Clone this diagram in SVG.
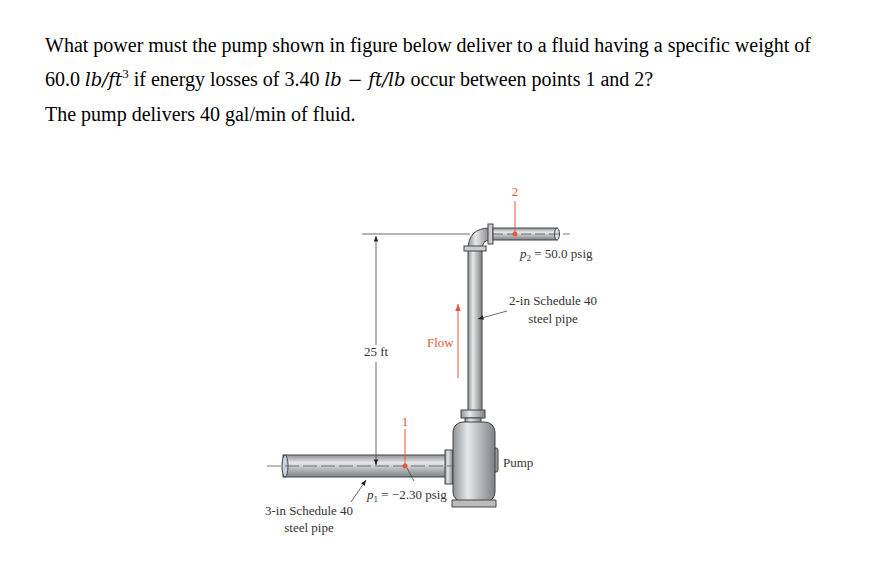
<svg xmlns="http://www.w3.org/2000/svg" width="872" height="586" viewBox="0 0 872 586">
<defs>
<linearGradient id="hg" x1="0" y1="0" x2="0" y2="1"><stop offset="0" stop-color="#8e9296"/><stop offset="0.35" stop-color="#e6e8ea"/><stop offset="1" stop-color="#7d8185"/></linearGradient>
<linearGradient id="vg" x1="0" y1="0" x2="1" y2="0"><stop offset="0" stop-color="#8e9296"/><stop offset="0.35" stop-color="#e6e8ea"/><stop offset="1" stop-color="#7d8185"/></linearGradient>
<marker id="ab" viewBox="0 0 10 10" refX="10" refY="5" markerWidth="7" markerHeight="7" orient="auto-start-reverse"><path d="M0,1 L10,5 L0,9 Z" fill="#222"/></marker>
<marker id="ar" viewBox="0 0 10 10" refX="10" refY="5" markerWidth="7" markerHeight="7" orient="auto"><path d="M0,1 L10,5 L0,9 Z" fill="#e8563c"/></marker>
</defs>
<style>
.q{font-family:"Liberation Serif",serif;font-size:20px;fill:#000}
.m{font-style:italic;font-family:"DejaVu Serif","Liberation Serif",serif;font-size:18px}
.l{font-family:"Liberation Serif",serif;font-size:13px;fill:#333}
.r{font-family:"Liberation Serif",serif;font-size:13px;fill:#e8563c}
.p{stroke:#444;stroke-width:1}
.thin{stroke:#444;stroke-width:0.8;fill:none}
</style>
<g id="question">
<text class="q" x="45" y="52">What power must the pump shown in figure below deliver to a fluid having a specific weight of</text>
<text class="q" x="45" y="86">60.0 <tspan class="m">lb/ft</tspan><tspan font-size="13" dy="-8">3</tspan><tspan dy="8">  if energy losses of 3.40 </tspan><tspan class="m">lb − ft/lb</tspan> occur between points 1 and 2?</text>
<text class="q" x="45" y="121">The pump delivers 40 gal/min of fluid.</text>
</g>
<g id="pipes">
<rect x="283" y="455" width="164" height="22" fill="url(#hg)" class="p"/>
<ellipse cx="285" cy="466" rx="3" ry="11" fill="#c7d2e4" class="p"/>
<rect x="445" y="450" width="8" height="34" fill="url(#vg)" class="p"/>
<rect x="468" y="250" width="14" height="162" fill="url(#vg)" class="p"/>
<path d="M468,250 Q468,228 490,228 L490,240 Q482,240 482,250 Z" fill="url(#vg)" class="p"/>
<rect x="464" y="246" width="22" height="5" fill="#ccc" class="p"/>
<rect x="488" y="224" width="5" height="20" fill="#ccc" class="p"/>
<rect x="493" y="228" width="64" height="12" fill="url(#hg)" class="p"/>
<ellipse cx="557" cy="234" rx="2.5" ry="6" fill="#ddd" class="p"/>
</g>
<g id="pump">
<rect x="461" y="410" width="24" height="8" fill="url(#vg)" class="p"/>
<rect x="465" y="418" width="16" height="6" fill="url(#vg)" class="p"/>
<rect x="493" y="448" width="5" height="24" rx="2" fill="#999" class="p"/>
<rect x="453" y="422" width="42" height="80" rx="10" fill="url(#vg)" class="p"/>
<path d="M452,500 L496,500 L496,507 L452,507 Z" fill="#bbb" class="p"/>
<text class="l" x="503" y="467">Pump</text>
</g>
<g id="connectors">
<line x1="362" y1="234" x2="470" y2="234" class="thin"/>
<line x1="493" y1="234" x2="570" y2="234" stroke="#555" stroke-width="0.8" stroke-dasharray="10,4"/>
<line x1="376" y1="345" x2="376" y2="236" class="thin" marker-end="url(#ab)"/>
<line x1="376" y1="362" x2="376" y2="465" class="thin" marker-end="url(#ab)"/>
<line x1="267" y1="466" x2="455" y2="466" stroke="#555" stroke-width="0.8" stroke-dasharray="14,4"/>
<line x1="458" y1="378" x2="458" y2="304" stroke="#e8563c" stroke-width="1" marker-end="url(#ar)"/>
<line x1="515" y1="201" x2="515" y2="234" stroke="#e8563c" stroke-width="1"/>
<circle cx="515" cy="234" r="2.5" fill="#e8563c"/>
<line x1="405" y1="429" x2="405" y2="466" stroke="#e8563c" stroke-width="1"/>
<circle cx="405" cy="466" r="2.5" fill="#e8563c"/>
<line x1="407" y1="468" x2="414" y2="481" class="thin"/>
<line x1="507" y1="311" x2="478" y2="319" class="thin" marker-end="url(#ab)"/>
<line x1="351" y1="502" x2="366" y2="480" class="thin" marker-end="url(#ab)"/>
</g>
<g id="labels">
<text class="r" x="515" y="196" text-anchor="middle">2</text>
<text class="r" x="405" y="426" text-anchor="middle">1</text>
<text class="r" x="427" y="347">Flow</text>
<text class="l" x="376" y="356" text-anchor="middle">25 ft</text>
<text class="l" x="520" y="258"><tspan font-style="italic">p</tspan><tspan font-size="9" dy="3">2</tspan><tspan dy="-3"> = 50.0 psig</tspan></text>
<text class="l" x="553" y="305" text-anchor="middle">2-in Schedule 40</text>
<text class="l" x="553" y="323" text-anchor="middle">steel pipe</text>
<text class="l" x="367" y="499"><tspan font-style="italic">p</tspan><tspan font-size="9" dy="3">1</tspan><tspan dy="-3"> = −2.30 psig</tspan></text>
<text class="l" x="309" y="515" text-anchor="middle">3-in Schedule 40</text>
<text class="l" x="309" y="532" text-anchor="middle">steel pipe</text>
</g>
</svg>
